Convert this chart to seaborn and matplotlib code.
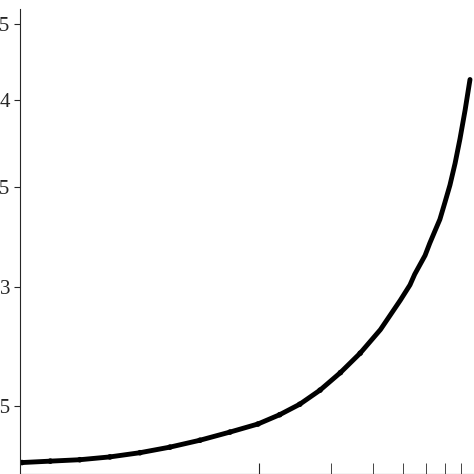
import numpy as np
import pandas as pd
import matplotlib
matplotlib.use("Agg")
import matplotlib.pyplot as plt
import seaborn as sns

x_vals = [1.02, 1.34, 1.78, 2.38, 3.18, 4.24, 5.66, 7.56, 9.9, 12.2, 14.8, 18.0,
          21.9, 26.5, 32.2, 39.0, 42.8, 44.8, 49.5, 51.8, 54.4, 57.1, 60.0, 62.9,
          66.1, 69.3, 72.8, 76.3]
y_vals = [2.29, 2.295, 2.30, 2.31, 2.325, 2.345, 2.37, 2.40, 2.43, 2.465, 2.505, 2.56,
          2.63, 2.71, 2.81, 2.94, 3.01, 3.06, 3.15, 3.21, 3.27, 3.33, 3.42, 3.51,
          3.63, 3.77, 3.94, 4.13]
y_ticks = [2.5, 3, 3.5, 4, 4.5]
y_ticklabels = ["2.5", "3", "3.5", "4", "4.5"]
x_minor = [20, 30, 40, 50, 60, 70]

sns.set_style("ticks")
plt.rcParams['font.family'] = ['Liberation Serif', 'DejaVu Serif']

df = pd.DataFrame({"x": x_vals, "y": y_vals})
fig = plt.figure(figsize=(4.74, 4.74), dpi=100)
ax = fig.add_axes([0.042, 0.0, 0.958, 0.98])
sns.lineplot(data=df, x="x", y="y", ax=ax, color="black", linewidth=3.5)
sns.scatterplot(data=df.iloc[:14], x="x", y="y", ax=ax, color="black", s=16, edgecolor="none")
ax.set_xscale("log")
ax.set_yscale("log")
ax.set_xlim(1, 79.3)
ax.set_ylim(2.25, 4.6)
ax.set_yticks(y_ticks)
ax.set_yticklabels(y_ticklabels, fontsize=15)
ax.yaxis.set_minor_locator(matplotlib.ticker.NullLocator())
ax.xaxis.set_major_locator(matplotlib.ticker.FixedLocator([10]))
ax.xaxis.set_minor_locator(matplotlib.ticker.FixedLocator(x_minor))
ax.set_xticklabels([])
ax.xaxis.set_minor_formatter(matplotlib.ticker.NullFormatter())
ax.tick_params(axis="x", which="both", direction="in", length=8)
ax.tick_params(axis="y", direction="out", length=4, pad=3)
ax.set_xlabel("")
ax.set_ylabel("")
sns.despine(ax=ax)
fig.savefig("out.png", dpi=100)
